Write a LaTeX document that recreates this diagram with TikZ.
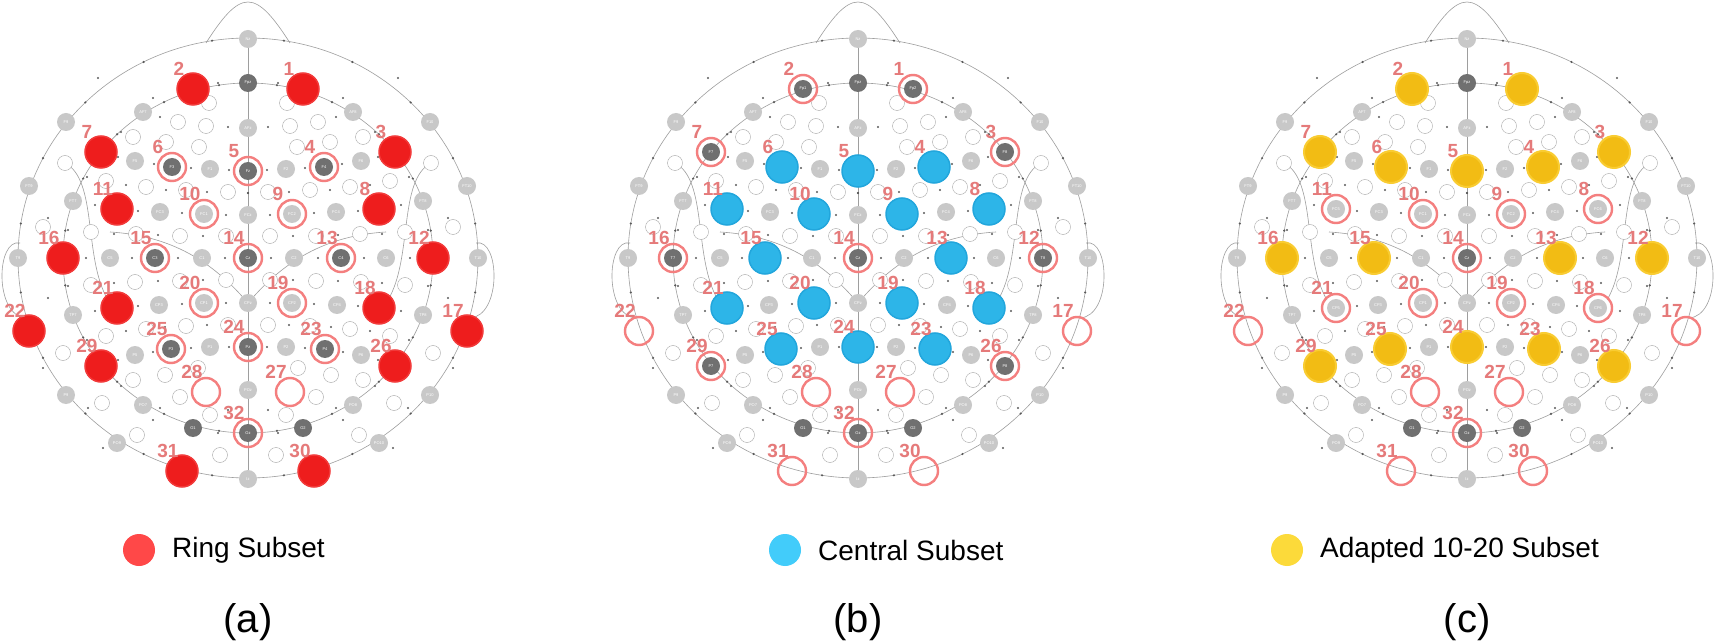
\documentclass[tikz,border=0pt]{standalone}
\usepackage{fontspec}
\setmainfont{Liberation Sans}
\definecolor{ltg}{HTML}{C8C8C8}
\definecolor{dkg}{HTML}{707070}
\definecolor{ringc}{HTML}{F47F7F}
\definecolor{numc}{HTML}{E57A7A}
\definecolor{redc}{HTML}{EE1D1D}
\definecolor{redd}{HTML}{F23A3A}
\definecolor{bluec}{HTML}{2DB5E8}
\definecolor{blued}{HTML}{22A6DC}
\definecolor{yelc}{HTML}{F2BC14}
\definecolor{yeld}{HTML}{F9CC32}
\definecolor{legred}{HTML}{FF4848}
\definecolor{legblue}{HTML}{42CCFA}
\definecolor{legyel}{HTML}{FCDA3A}
\tikzset{
 hline/.style={draw=black!38,line width=0.6pt},
 lg/.style={circle,fill=ltg,inner sep=0,minimum size=18pt,text=white,font=\fontsize{4}{4}\selectfont},
 dg/.style={lg,fill=dkg},
 wc/.style={circle,draw=black!35,fill=white,line width=0.4pt,minimum size=15pt,inner sep=0},
 sdot/.style={circle,fill=black!65,inner sep=0,minimum size=2.4pt},
 openmark/.style={circle,draw=ringc,line width=2.4pt,minimum size=28pt,inner sep=0},
 redmark/.style={circle,fill=redc,draw=redd,line width=1.5pt,minimum size=32pt,inner sep=0},
 bluemark/.style={circle,fill=bluec,draw=blued,line width=1.5pt,minimum size=32pt,inner sep=0},
 yelmark/.style={circle,fill=yelc,draw=yeld,line width=2pt,minimum size=32pt,inner sep=0},
 numlab/.style={text=numc,font=\bfseries\fontsize{19}{19}\selectfont,inner sep=0},
 legdot/.style={circle,inner sep=0,minimum size=32pt},
 legtext/.style={anchor=west,inner sep=0,font=\fontsize{28}{28}\selectfont},
 captext/.style={inner sep=0,font=\fontsize{40}{40}\selectfont},
}
\newcommand\headmap[4]{%
\begin{scope}[shift={(#2,258)}]
 \draw[hline] (0,0) ellipse [x radius=230pt, y radius=220pt];
 \draw[hline] (0,0) ellipse [x radius=185pt, y radius=175pt];
 \coordinate (#1-top) at (0,-219);
 \coordinate (#1-bot) at (0,221);
 \draw[hline] (#1-top) -- (#1-bot);
 \draw[hline] (-42,-215) .. controls (-26,-240) and (-13,-256) .. (0,-256) .. controls (13,-256) and (26,-240) .. (42,-215);
 \foreach \s in {-1,1}{
  \draw[hline] ({\s*228},-15) .. controls ({\s*252},-20) and ({\s*254},58) .. ({\s*222},60);
  \draw[hline] ({\s*183},-95) .. controls ({\s*150},-78) and ({\s*165},0) .. ({\s*140},42);
  \draw[hline] ({\s*138},-26) .. controls ({\s*70},-22) and ({\s*30},10) .. (0,45);
 }
 \foreach \k in {0,...,19}{
  \node[sdot] (#1-od\k) at ({9+18*\k}:230pt and 220pt) {};
  \node[sdot] (#1-id\k) at ({9+18*\k}:185pt and 175pt) {};
 }
 \foreach \s in {-1,1}{
  \foreach \x/\y in {19/-88,57/-90,94/-94,130/-101,22/-43,66/-45,110/-47,153/-53,23/0,70/0,116/0,162/0,22/45,66/46,110/48,153/53,19/89,57/90,95/94,130/102,
   0/-65,41/-66,82/-68,122/-73,161/-81,45/-22,90/-23,134/-24,180/-28,45/22,90/23,134/25,180/28,41/67,83/69,122/73,161/82,
   20/-131,88/-141,127/-126,20/152,88/150,127/128,30/-175,30/175,95/-160,95/162,200/-40,200/40,205/110,160/150,150/-180,145/190}{
   \node[sdot] at ({\s*\x},\y) {};
  }
  \foreach \x/\y in {20/-66,62/-68,102/-71,142/-77,22/-22,68/-22,112/-24,157/-26,22/22,68/23,113/24,157/27,20/67,62/68,102/71,142/78,
   39/-155,70/-136,42/-132,115/-121,82/-116,49/-111,183/-95,205/-31,185/95,115/122,83/117,50/110,146/145,68/139,38/157,111/177,28/197}{
   \node[wc] at ({\s*\x},\y) {};
  }
 }
 \foreach \nl/\nr/\x/\y in {AF7/AF8/105/-146,F9/F10/182/-136,F5/F6/113/-97,F1/F2/38/-89,FT9/FT10/219/-72,FT7/FT8/175/-57,FC5/FC6/131/-49,FC3/FC4/88/-46,FC1/FC2/44/-44,T9/T10/230/0,C5/C6/138/0,C1/C2/46/0,TP7/TP8/175/57,CP5/CP6/131/50,CP3/CP4/89/47,CP1/CP2/44/45,P9/P10/182/137,P5/P6/113/97,P1/P2/38/89,PO7/PO8/105/147,PO9/PO10/131/185}{
  \node[lg] (#1-\nl) at (-\x,\y) {\nl};
  \node[lg] (#1-\nr) at (\x,\y) {\nr};
 }
 \foreach \nl/\nr/\x/\y in {Fp1/Fp2/55/-169,F7/F8/147/-106,F3/F4/76/-91,T7/T8/185/0,C3/C4/93/0,P7/P8/147/108,P3/P4/77/91,O1/O2/55/170}{
  \node[dg] (#1-\nl) at (-\x,\y) {\nl};
  \node[dg] (#1-\nr) at (\x,\y) {\nr};
 }
 \foreach \n/\y in {Nz/-219,AFz/-130,FCz/-43,CPz/45,POz/132,Iz/221}{\node[lg] (#1-\n) at (0,\y) {\n};}
 \foreach \n/\y in {Fpz/-175,Fz/-87,Cz/0,Pz/89,Oz/175}{\node[dg] (#1-\n) at (0,\y) {\n};}
 \foreach \i/\x/\y in {1/55/-169,2/-55/-169,3/147/-106,4/76/-91,5/0/-87,6/-76/-91,7/-147/-106,8/131/-49,9/44/-44,10/-44/-44,11/-131/-49,12/185/0,13/93/0,14/0/0,15/-93/0,16/-185/0,17/219/73,18/131/50,19/44/45,20/-44/45,21/-131/50,22/-219/73,23/77/91,24/0/89,25/-77/91,26/147/108,27/42/134,28/-42/134,29/-147/108,30/66/213,31/-66/213,32/0/175}{
  \coordinate (#1-e\i) at (\x,\y);
  \node[openmark] (#1-m\i) at (#1-e\i) {};
 }
 \foreach \i in {#4}{\node[#3] (#1-f\i) at (#1-e\i) {};}
 \foreach \i in {1,...,32}{\node[numlab] (#1-l\i) at ([shift={(-14,-20)}]#1-e\i) {\i};}
\end{scope}}
\begin{document}
\begin{tikzpicture}[x=1pt,y=-1pt]
\useasboundingbox (0,0) rectangle (1716,644);
\fill[white] (0,0) rectangle (1716,644);
\headmap{a}{248}{redmark}{1,2,3,7,8,11,12,16,17,18,21,22,26,29,30,31}
\headmap{b}{858}{bluemark}{4,5,6,8,9,10,11,13,15,18,19,20,21,23,24,25}
\headmap{c}{1467}{yelmark}{1,2,3,4,5,6,7,12,13,15,16,23,24,25,26,29}
\node[legdot,fill=legred] (la) at (139,550) {};
\node[legtext] (lat) at (172,550) {Ring Subset};
\node[legdot,fill=legblue] (lb) at (785,550) {};
\node[legtext] (lbt) at (818,550) {Central Subset};
\node[legdot,fill=legyel] (lc) at (1287,550) {};
\node[legtext] (lct) at (1320,550) {Adapted 10-20 Subset};
\node[captext] (ca) at (248,622) {(a)};
\node[captext] (cb) at (858,622) {(b)};
\node[captext] (cc) at (1467,622) {(c)};
\end{tikzpicture}
\end{document}
